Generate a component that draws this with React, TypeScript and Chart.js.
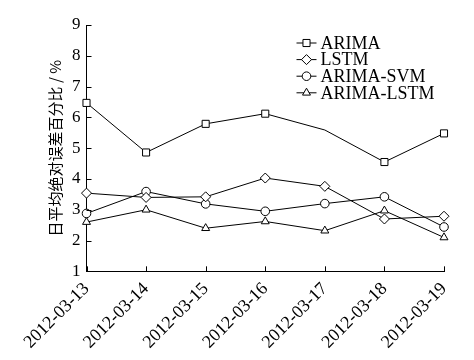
import React, { useEffect, useRef } from "react";
import { Chart, registerables } from "chart.js";
import { drawPoint } from "chart.js/helpers";

Chart.register(...registerables);

const dates = ["2012-03-13", "2012-03-14", "2012-03-15", "2012-03-16", "2012-03-17", "2012-03-18", "2012-03-19"];
const seriesNames = ["ARIMA", "LSTM", "ARIMA-SVM", "ARIMA-LSTM"];
const arima = [6.47, 4.86, 5.79, 6.12, 5.59, 4.55, 5.48];
const lstm = [3.54, 3.4, 3.42, 4.03, 3.76, 2.7, 2.79];
const arimaSvm = [2.88, 3.59, 3.19, 2.95, 3.2, 3.42, 2.44];
const arimaLstm = [2.6, 3.0, 2.4, 2.62, 2.32, 2.97, 2.1];
const yMin = 1;
const yMax = 9;
const yStep = 1;
const yTitle = "日平均绝对误差百分比 / %";

const SERIF = "'Liberation Serif', 'Times New Roman', serif";

const inwardTicks = {
  id: "inwardTicks",
  afterDraw(chart: any) {
    const { ctx, chartArea, scales } = chart;
    const x = scales.x;
    const y = scales.y;
    ctx.save();
    ctx.strokeStyle = "#000";
    ctx.lineWidth = 1;
    ctx.beginPath();
    for (let i = 0; i < y.ticks.length; i++) {
      const py = Math.round(y.getPixelForTick(i)) + 0.5;
      ctx.moveTo(chartArea.left, py);
      ctx.lineTo(chartArea.left + 5, py);
    }
    for (let i = 0; i < x.ticks.length; i++) {
      const px = Math.round(x.getPixelForTick(i)) + 0.5;
      ctx.moveTo(px, chartArea.bottom);
      ctx.lineTo(px, chartArea.bottom - 5);
    }
    ctx.stroke();
    ctx.restore();
  },
};

const innerLegend = {
  id: "innerLegend",
  afterDraw(chart: any) {
    const { ctx, chartArea } = chart;
    const x0 = chartArea.left + 210;
    const y0 = chartArea.top + 18;
    const rowH = 16.6;
    ctx.save();
    ctx.font = "18px " + SERIF;
    ctx.textBaseline = "middle";
    ctx.textAlign = "left";
    chart.data.datasets.forEach((ds: any, i: number) => {
      const yy = y0 + i * rowH;
      ctx.strokeStyle = "#000";
      ctx.lineWidth = 1;
      ctx.beginPath();
      ctx.moveTo(x0, yy);
      ctx.lineTo(x0 + 20, yy);
      ctx.stroke();
      ctx.fillStyle = "#fff";
      drawPoint(ctx, { pointStyle: ds.pointStyle, radius: ds.legendRadius, borderWidth: 1, rotation: 0 } as any, x0 + 10, yy);
      ctx.fillStyle = "#000";
      ctx.fillText(ds.label, x0 + 24, yy + 1);
    });
    ctx.restore();
  },
};

export default function App() {
  const ref = useRef<HTMLCanvasElement>(null);
  useEffect(() => {
    const mk = (label: string, data: number[], pointStyle: string, r: number, radius: any) => ({
      label,
      data,
      pointStyle,
      legendRadius: r,
      pointRadius: radius,
      pointBorderWidth: 1,
      borderWidth: 1,
      borderColor: "#000",
      backgroundColor: "#fff",
      pointBackgroundColor: "#fff",
      pointBorderColor: "#000",
      tension: 0,
    });
    const chart = new Chart(ref.current!, {
      type: "line",
      data: {
        labels: dates,
        datasets: [
          mk(seriesNames[0], arima, "rect", 5, [5, 5, 5, 5, 0, 5, 5]),
          mk(seriesNames[1], lstm, "rectRot", 5, 5),
          mk(seriesNames[2], arimaSvm, "circle", 4.3, 4.3),
          mk(seriesNames[3], arimaLstm, "triangle", 4.6, 4.6),
        ] as any,
      },
      options: {
        animation: false,
        responsive: false,
        maintainAspectRatio: false,
        layout: { padding: { top: 25, right: 30, left: 46, bottom: 0 } },
        plugins: { legend: { display: false }, tooltip: { enabled: false } },
        scales: {
          x: {
            offset: false,
            grid: { display: true, drawOnChartArea: false, drawTicks: false, color: "rgba(0,0,0,0)" },
            border: { display: true, color: "#000", width: 1 },
            ticks: {
              color: "#000",
              font: { family: SERIF, size: 18 },
              minRotation: 45,
              maxRotation: 45,
              padding: 7,
            },
          },
          y: {
            min: yMin,
            max: yMax,
            grid: { display: true, drawOnChartArea: false, drawTicks: false, color: "rgba(0,0,0,0)" },
            border: { display: true, color: "#000", width: 1 },
            ticks: {
              stepSize: yStep,
              color: "#000",
              font: { family: SERIF, size: 17 },
              padding: 6,
            },
            title: {
              display: true,
              text: yTitle,
              color: "#000",
              font: { family: "'Noto Sans CJK SC', sans-serif", size: 15 },
              padding: { top: 0, bottom: 2 },
            },
          },
        },
      },
      plugins: [inwardTicks, innerLegend],
    });
    return () => chart.destroy();
  }, []);
  return (
    <div style={{ position: "fixed", left: 0, top: 0, width: 474, height: 360, background: "#fff" }}>
      <canvas ref={ref} width={474} height={360} style={{ width: 474, height: 360 }} />
    </div>
  );
}
